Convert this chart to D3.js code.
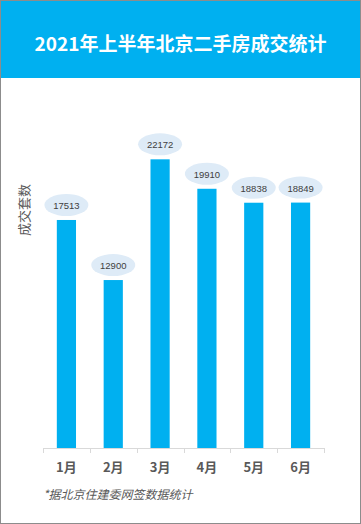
<!DOCTYPE html>
<html><head><meta charset="utf-8">
<script src="https://cdn.jsdelivr.net/npm/d3@7"></script>
<style>html,body{margin:0;padding:0;background:#fff;}svg{display:block;}</style>
</head><body>
<svg id="c" width="361" height="524"></svg>
<script>
const categories = ["1月","2月","3月","4月","5月","6月"];
const values = [17513, 12900, 22172, 19910, 18838, 18849];
const title = "2021年上半年北京二手房成交统计";
const yTitle = "成交套数";
const note = "*据北京住建委网签数据统计";

const W = 361, H = 524;
const svg = d3.select("#c");
const font = "'Noto Sans CJK SC','Noto Sans',sans-serif";

svg.append("rect").attr("x",0).attr("y",0).attr("width",W).attr("height",H).attr("fill","#fff");
svg.append("rect").attr("x",0).attr("y",0).attr("width",W).attr("height",78).attr("fill","#00B0F0");
svg.append("text").attr("x",W/2).attr("y",42).attr("text-anchor","middle").attr("dominant-baseline","central")
  .attr("fill","#fff").attr("font-family",font).attr("font-weight","bold").attr("font-size",19).text(title);

const x = d3.scaleBand().domain(categories).range([43,324]).paddingInner(0.59).paddingOuter(0.295);
const y = d3.scaleLinear().domain([0,25000]).range([448,122.5]);

const g = svg.append("g");
g.selectAll("rect.bar").data(values).join("rect").attr("class","bar")
  .attr("x",(d,i)=>x(categories[i])).attr("width",x.bandwidth())
  .attr("y",d=>y(d)).attr("height",d=>y(0)-y(d)).attr("fill","#00B0F0");

// axis
const ax = svg.append("g").attr("transform","translate(0,448)")
  .call(d3.axisBottom(x).tickSize(0).tickPadding(0));
ax.select(".domain").remove();
ax.selectAll("text").remove();
svg.append("line").attr("x1",43).attr("x2",324).attr("y1",448.5).attr("y2",448.5).attr("stroke","#D9D9D9");
const edges = categories.map(c=>x(c)-x.step()*x.paddingInner()/2).concat([324]);
svg.selectAll("line.tk").data(edges).join("line").attr("class","tk")
  .attr("x1",d=>Math.round(d)+0.5).attr("x2",d=>Math.round(d)+0.5).attr("y1",448).attr("y2",453).attr("stroke","#D9D9D9");
svg.selectAll("text.cat").data(categories).join("text").attr("class","cat")
  .attr("x",d=>x(d)+x.bandwidth()/2).attr("y",466).attr("text-anchor","middle").attr("dominant-baseline","central")
  .attr("font-family",font).attr("font-weight","bold").attr("font-size",13).attr("fill","#595959").text(d=>d);

// labels
const lab = svg.selectAll("g.lab").data(values).join("g").attr("class","lab")
  .attr("transform",(d,i)=>`translate(${x(categories[i])+x.bandwidth()/2},${y(d)-15})`);
lab.append("ellipse").attr("rx",22).attr("ry",11).attr("fill","#DEEBF7");
lab.append("text").attr("text-anchor","middle").attr("dominant-baseline","central").attr("y",0.5)
  .attr("font-family","'Liberation Sans',Arial,sans-serif").attr("font-size",9.5).attr("fill","#404040").text(d=>d);

// y title
svg.append("text").attr("transform","translate(23,210) rotate(-90)").attr("text-anchor","middle").attr("dominant-baseline","central")
  .attr("font-family",font).attr("font-size",13).attr("fill","#595959").text(yTitle);

// note
svg.append("text").attr("x",43).attr("y",493).attr("dominant-baseline","central").attr("font-style","italic")
  .attr("font-family",font).attr("font-size",12).attr("fill","#595959").text(note);

// border
svg.append("rect").attr("x",0.5).attr("y",0.5).attr("width",W-1).attr("height",H-1).attr("fill","none").attr("stroke","#8C8C8C");
</script>
</body></html>
